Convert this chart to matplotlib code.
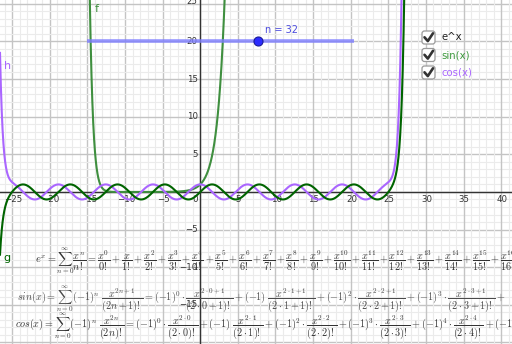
import numpy as np
import matplotlib
matplotlib.use("Agg")
import matplotlib.pyplot as plt
from matplotlib.patches import FancyBboxPatch
from math import factorial

# ── DATA ───────────────────────────────────────────────────
N_TERMS = 32                      # slider value n
SLIDER_MIN, SLIDER_MAX = 0, 50
SLIDER_X = [-15.0, 20.5]          # slider track, graph units
SLIDER_Y = 20.0
X_TICKS = [-25, -20, -15, -10, -5, 5, 10, 15, 20, 25, 30, 35, 40]
Y_TICKS = [-15, -10, -5, 5, 10, 15, 20, 25]
CHECK_LABELS = ["e^x", "sin(x)", "cos(x)"]

# ── PALETTE ────────────────────────────────────────────────
F_GREEN  = "#3f8f3f"
G_GREEN  = "#006400"
H_PURPLE = "#aa66ff"
AXIS     = "#333333"
MAJOR    = "#c4c4c4"
MINOR    = "#ebebeb"
SLIDER   = "#7d7dff"
POINT    = "#2b2bff"
TEXT     = "#333333"

W, H = 512, 344
XLIM = (-26.62, 41.44)
YLIM = (-20.2, 25.5)


def exp_taylor(x, n):
    return sum(x**k / factorial(k) for k in range(n + 1))


def sin_taylor(x, n):
    return sum((-1)**k * x**(2*k + 1) / factorial(2*k + 1) for k in range(n + 1))


def cos_taylor(x, n):
    return sum((-1)**k * x**(2*k) / factorial(2*k) for k in range(n + 1))


plt.rcParams["mathtext.fontset"] = "cm"

fig = plt.figure(figsize=(W / 100, H / 100), dpi=100)
ax = fig.add_axes([0, 0, 1, 1])
ax.set_xlim(*XLIM)
ax.set_ylim(*YLIM)
ax.axis("off")

# grid: minor every unit, major every 5
for v in range(-30, 45):
    c, lw = (MAJOR, 1.0) if v % 5 == 0 else (MINOR, 0.8)
    ax.axvline(v, color=c, lw=lw, zorder=0)
    ax.axhline(v, color=c, lw=lw, zorder=0)
ax.axhline(0, color=AXIS, lw=1.0, zorder=1)
ax.axvline(0, color=AXIS, lw=1.0, zorder=1)

for t in X_TICKS:
    ax.text(t + 0.1, -0.4, f"{t}".replace("-", "\u2212"), ha="center", va="top",
            fontsize=6.2, color=AXIS, zorder=2)
for t in Y_TICKS:
    ax.text(-0.35, t + (0.3 if t == 25 else 0), f"{t}".replace("-", "\u2212"),
            ha="right", va="center", fontsize=6.2, color=AXIS, zorder=2)
ax.text(-0.35, -0.4, "0", ha="right", va="top", fontsize=6.2, color=AXIS, zorder=2)

# Taylor polynomials
x = np.linspace(XLIM[0], XLIM[1], 3000)
ax.plot(x, exp_taylor(x, N_TERMS), color=F_GREEN, lw=1.5, zorder=3)
ax.plot(x, cos_taylor(x, N_TERMS), color=H_PURPLE, lw=1.5, zorder=3)
ax.plot(x, sin_taylor(x, N_TERMS), color=G_GREEN, lw=1.5, zorder=4)

# slider
ax.plot(SLIDER_X, [SLIDER_Y, SLIDER_Y], color=SLIDER, lw=2.6, alpha=0.8,
        solid_capstyle="butt", zorder=5)
frac = (N_TERMS - SLIDER_MIN) / (SLIDER_MAX - SLIDER_MIN)
px = SLIDER_X[0] + frac * (SLIDER_X[1] - SLIDER_X[0])
ax.plot([px], [SLIDER_Y], "o", ms=6.5, color=POINT, mec="#1a1a99", mew=0.8, zorder=6)

# ── OVERLAY IN PIXELS ──────────────────────────────────────
ov = fig.add_axes([0, 0, 1, 1], facecolor="none")
ov.set_xlim(0, W)
ov.set_ylim(H, 0)
ov.axis("off")

ov.text(265, 30, f"n = {N_TERMS}", fontsize=7, color="#4b4bdd", va="center")
ov.text(95, 9, "f", fontsize=8, color=F_GREEN, va="center")
ov.text(4, 66, "h", fontsize=8, color=H_PURPLE, va="center")
ov.text(3, 258, "g", fontsize=8, color=G_GREEN, va="center")

# checkboxes
label_colors = ["#222222", "#3f9a3f", "#aa66ff"]
for i, (lab, col) in enumerate(zip(CHECK_LABELS, label_colors)):
    cy = 37.5 + i * 17.5
    ov.add_patch(FancyBboxPatch((422, cy - 6.5), 13, 13,
                                boxstyle="round,pad=0,rounding_size=2.5",
                                fc="white", ec="#9a9a9a", lw=0.9, zorder=7))
    ov.plot([424.5, 427.8, 433.0], [cy - 0.2, cy + 3.6, cy - 4.2],
            color="#333333", lw=1.9, solid_capstyle="round", zorder=8)
    ov.text(441, cy, lab, fontsize=7.3, color=col, va="center", zorder=8)

# ── SERIES FORMULAS ────────────────────────────────────────
exp_terms = [r"\dfrac{x}{1!}" if k == 1 else r"\dfrac{x^{%d}}{%d!}" % (k, k)
             for k in range(17)]
exp_line = r"$e^x=\sum_{n=0}^{\infty}\dfrac{x^n}{n!}=" + "+".join(exp_terms) + "+$"

sin_terms = [r"(-1)^0\cdot\dfrac{x^{2\cdot0+1}}{(2\cdot0+1)!}",
             r"(-1)\ \dfrac{x^{2\cdot1+1}}{(2\cdot1+1)!}",
             r"(-1)^2\cdot\dfrac{x^{2\cdot2+1}}{(2\cdot2+1)!}",
             r"(-1)^3\cdot\dfrac{x^{2\cdot3+1}}{(2\cdot3+1)!}"]
sin_line = (r"$sin(x)=\sum_{n=0}^{\infty}(-1)^n\ \dfrac{x^{2n+1}}{(2n+1)!}="
            + "+".join(sin_terms) + "+$")

cos_terms = [r"(-1)^0\cdot\dfrac{x^{2\cdot0}}{(2\cdot0)!}",
             r"(-1)\ \dfrac{x^{2\cdot1}}{(2\cdot1)!}",
             r"(-1)^2\cdot\dfrac{x^{2\cdot2}}{(2\cdot2)!}",
             r"(-1)^3\cdot\dfrac{x^{2\cdot3}}{(2\cdot3)!}",
             r"(-1)^4\cdot\dfrac{x^{2\cdot4}}{(2\cdot4)!}"]
cos_line = (r"$cos(x)=\sum_{n=0}^{\infty}(-1)^n\ \dfrac{x^{2n}}{(2n)!}="
            + "+".join(cos_terms) + r"+(-1$")

ov.text(35, 263, exp_line, fontsize=7.4, color=TEXT, va="baseline", zorder=9)
ov.text(17, 300, sin_line, fontsize=7.3, color="#4a4a4a", va="baseline", zorder=9)
ov.text(15, 327, cos_line, fontsize=7.3, color=TEXT, va="baseline", zorder=9)

fig.savefig("out.png", dpi=100)
